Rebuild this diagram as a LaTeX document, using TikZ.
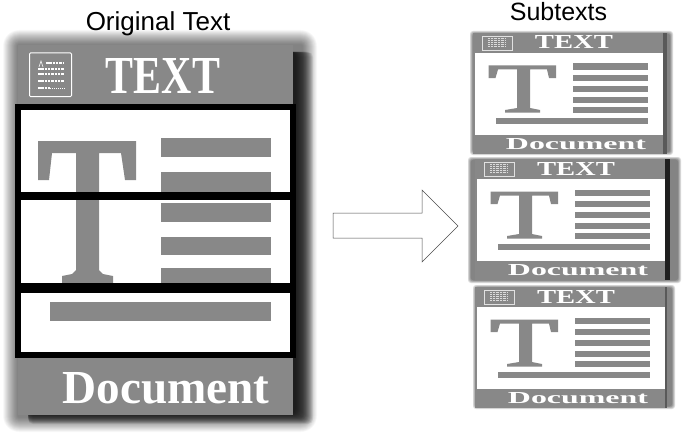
\documentclass[tikz,border=0pt]{standalone}
\usepackage{fontspec}
\setmainfont{Liberation Serif}
\newfontfamily\labelfont{Liberation Sans}
\usepackage{graphicx}
\definecolor{docgray}{HTML}{888888}
\tikzset{
  graybox/.style={fill=docgray,draw=none},
  whitebox/.style={fill=white,draw=none},
  caption/.style={inner sep=0pt,font=\labelfont\fontsize{25}{25}\selectfont,text=black},
  title/.style={inner sep=0pt,text=white,font=\bfseries},
  frameline/.style={line width=6pt,draw=black,line cap=butt},
  glow/.style={fill=black,fill opacity=0.02,draw=none},
  bigarrow/.style={draw=black!70,fill=white,line width=0.5pt,line join=miter},
}
% small document: #1 name prefix, #2 x and #3 y of the white panel's top-left corner,
% #4 right band colour, #5 right band width, #6 glow right, #7 glow left, #8 glow bottom
\newcommand{\smalldoc}[8]{%
  \begin{scope}[shift={(#2,#3)}]
    \foreach \g in {0,1,2,3}{
      \fill[glow,fill opacity=0.15,rounded corners=3pt]
        ({#7+\g*0.9},{-22+\g*0.8}) rectangle ({#6-\g*0.9},{#8-\g*0.8});
    }
    \fill[graybox] (-2,-20) rectangle (188,100.5);
    \fill[#4] (188,-20) rectangle ({188+#5},100.5);
    \fill[whitebox] (0,0) rectangle (188,81.5);
    % T
    \fill[docgray] (13.5,12.5) -- (81,12.5) -- (81,25) -- (74,25) -- (72,16.5) -- (55,16.5) -- (55,55) -- (65,57) -- (65,59.5) -- (30,59.5) -- (30,57) -- (42,55) -- (42,16.5) -- (23,16.5) -- (20.5,25) -- (13.5,25) -- cycle;
    \foreach \a/\b in {10.5/16.7,22/28,32.5/38.5,43.5/49.5,53.5/59.5}{
      \fill[docgray] (98,\a) rectangle (173,\b);
    }
    \fill[docgray] (21,64.5) rectangle (173,70.5);
    % icon
    \draw[white!75!docgray,line width=0.5pt] (7,-17) rectangle (37,-3);
    \foreach \yy in {-14.5,-12.5,-10.5,-8.5,-6.5}{
      \draw[white!70!docgray,line width=0.8pt,dash pattern=on 1pt off 0.4pt] (13,\yy) -- (31,\yy);
    }
    \node[title,anchor=center] (#1text) at (99,-10.5) {\resizebox{78pt}{13pt}{TEXT}};
    \node[title,anchor=center] (#1doc) at (101,91.5) {\resizebox{140pt}{11pt}{Document}};
  \end{scope}
}
\begin{document}
\begin{tikzpicture}[x=1pt,y=-1pt]
\useasboundingbox (0,0) rectangle (685,436);
\fill[white] (0,0) rectangle (685,436);
\node[caption,font=\labelfont\fontsize{26}{26}\selectfont] (orig) at (158,24) {Original Text};
\node[caption] (subs) at (558.5,12) {Subtexts};
% big document shadow
\foreach \g in {0,1,...,29}{
  \fill[glow,rounded corners={16-\g*0.5}] ({3+\g*0.5},{30+\g*0.5}) rectangle ({317-\g*0.5},{432-\g*0.5});
}
\foreach \g in {0,1,...,17}{
  \fill[glow,fill opacity=0.07,rounded corners=5pt] (28,52) rectangle ({313-\g},{424-\g*0.6});
}
\fill[graybox] (18,45) rectangle (293,415);
\fill[whitebox] (21,107) rectangle (290,355);
% big T
\fill[docgray] (38,141) -- (136,141) -- (136,180) -- (125,180) -- (121,153) -- (99,153) -- (99,270) -- (103,274) -- (113,276) -- (113,287) -- (62,287) -- (62,276) -- (72,274) -- (76,270) -- (76,153) -- (52,153) -- (49,180) -- (38,180) -- cycle;
\foreach \a/\b in {138/157,172/192,203/222,237/255,268/287}{
  \fill[docgray] (161,\a) rectangle (271,\b);
}
\fill[docgray] (50,302) rectangle (271,321);
% black frame
\draw[frameline] (18,107) rectangle (292.5,354.5);
\draw[frameline,line width=7.5pt] (18,196) -- (292,196);
\draw[frameline,line width=9.5pt] (18,288) -- (292,288);
% icon
\draw[white,line width=1pt,rounded corners=1pt] (29.5,53) rectangle (71.5,96.5);
\draw[white,line width=0.6pt] (39,67) -- (41,61) -- (43,67);
\draw[white,line width=1.2pt,dash pattern=on 2.5pt off 0.8pt] (46,63) -- (63,63);
\foreach \yy in {69,74,81}{
  \draw[white,line width=1.2pt,dash pattern=on 2.5pt off 0.8pt] (38,\yy) -- (64,\yy);
}
\draw[white,line width=1.2pt,dash pattern=on 2.5pt off 0.8pt] (38,88) -- (50,88);
\draw[white,line width=0.8pt,dash pattern=on 1pt off 1pt] (50,88) -- (65,88);
\node[title,anchor=center] (bigtext) at (163,75.5) {\resizebox{114pt}{35pt}{TEXT}};
\node[title,anchor=center] (bigdoc) at (166,388) {\resizebox{207pt}{31pt}{Document}};
% block arrow
\draw[bigarrow] (333,213) -- (422,213) -- (422,190) -- (458,226) -- (422,262) -- (422,238) -- (333,238) -- cycle;
% subtexts
\smalldoc{a}{475}{53}{black!65}{4}{198}{-5}{102}
\smalldoc{b}{477}{179}{black!88}{5}{204}{-9}{104}
\smalldoc{c}{477}{307}{black!65}{1.5}{198}{-4}{102}
\end{tikzpicture}
\end{document}
